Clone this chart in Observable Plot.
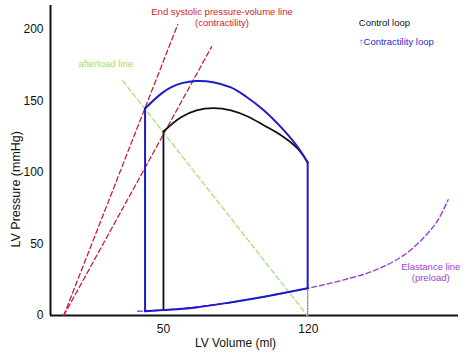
<!DOCTYPE html>
<html>
<head>
<meta charset="utf-8">
<script src="https://cdn.jsdelivr.net/npm/d3@7"></script>
<script src="https://cdn.jsdelivr.net/npm/@observablehq/plot@0.6"></script>
<style>
  html, body { margin: 0; padding: 0; background: #fff; }
  #chart svg { display: block; }
</style>
</head>
<body>
<div id="chart"></div>
<script>
// ---- data (volume in ml, pressure in mmHg) ----
const xTicks = [50, 120];
const yTicks = [0, 50, 100, 150, 200];

// control loop (black): isovolumic contraction + ejection curve
const controlSideV = [50, 50];
const controlSideP = [3.8, 128.7];
const controlTopV = [50, 58.5, 66, 74.4, 82.6, 91, 98.6, 106.8, 114.8, 119.7];
const controlTopP = [128.7, 138.7, 143.5, 145, 143.4, 139, 132.9, 126, 116.8, 107];

// increased contractility loop (blue)
const contrTopV = [41.1, 48.8, 53.6, 59, 65.7, 74, 82.6, 90, 98.6, 106.8, 114.8, 119.7];
const contrTopP = [144.8, 155, 159.5, 162.5, 164, 163.2, 159.5, 153, 143.4, 131.7, 118, 107];
const contrSideV = [41.1, 41.1];
const contrSideP = [144.8, 3];
const contrFillV = [41.1, 50, 65, 83, 100, 119.7];
const contrFillP = [3, 3.8, 5.5, 9.3, 13.5, 19];
const contrEjectV = [119.7, 119.7];
const contrEjectP = [19, 107];

// end systolic pressure-volume lines (red, dashed)
const espvr1V = [1.8, 56.9];
const espvr1P = [0, 203.5];
const espvr2V = [1.8, 73.3];
const espvr2P = [0, 188];

// afterload line (green, dashed)
const afterV = [30.3, 119.5];
const afterP = [164.3, 0];

// elastance line (purple, dashed)
const elasV = [37.5, 50, 83, 119.7, 136, 152, 166, 176, 182.5, 187.6];
const elasP = [3, 3.8, 9.3, 19, 24.5, 31.5, 42, 54.8, 66.4, 81];

// end-diastolic volume marker (grey dotted)
const edvV = [119.7, 119.7];
const edvP = [0, 19];

// annotations (centred)
const midText = ["End systolic pressure-volume line", "(contractility)", "afterload line", "Elastance line", "(preload)"];
const midV = [78.3, 78.3, 22.1, 179.2, 179.2];
const midP = [212.6, 204.9, 176, 33.8, 26.6];
const midColor = ["#cc1f2b", "#cc1f2b", "#9fe06a", "#9b3fd6", "#9b3fd6"];
// annotations (left-aligned legend)
const legText = ["Control loop", "\u2191Contractility loop"];
const legV = [144.4, 144.4];
const legP = [204.4, 191.1];
const legColor = ["#111111", "#2a2ad0"];

const xTitle = "LV Volume (ml)";
const yTitle = "LV Pressure (mmHg)";

// ---- build tables ----
const pts = (V, P) => V.map((v, i) => ({v, p: P[i]}));
const mids = midText.map((t, i) => ({t, v: midV[i], p: midP[i], c: midColor[i]}));
const legs = legText.map((t, i) => ({t, v: legV[i], p: legP[i], c: legColor[i]}));

const font = "Liberation Sans, Arial, Helvetica, sans-serif";
const dash = "5,3";
const blue = "#1c1cc8";

const plot = Plot.plot({
  width: 474,
  height: 355,
  marginLeft: 50,
  marginRight: 16,
  marginTop: 5,
  marginBottom: 40,
  style: {fontFamily: font, fontSize: "12px", background: "white", color: "#111"},
  x: {domain: [-4.6, 192.6], label: null},
  y: {domain: [0, 216.8], label: null},
  marks: [
    // axis lines
    Plot.ruleX([-4.6], {stroke: "#111", strokeWidth: 2}),
    Plot.ruleY([0], {stroke: "#111", strokeWidth: 2}),
    // reference lines
    Plot.line(pts(espvr1V, espvr1P), {x: "v", y: "p", stroke: "#c8203a", strokeWidth: 1.3, strokeDasharray: dash}),
    Plot.line(pts(espvr2V, espvr2P), {x: "v", y: "p", stroke: "#c8203a", strokeWidth: 1.3, strokeDasharray: dash}),
    Plot.line(pts(afterV, afterP), {x: "v", y: "p", stroke: "#a8e07a", strokeWidth: 1.3, strokeDasharray: dash}),
    Plot.line(pts(elasV, elasP), {x: "v", y: "p", stroke: "#9b3fd6", strokeWidth: 1.4, strokeDasharray: dash, curve: "catmull-rom"}),
    Plot.line(pts(edvV, edvP), {x: "v", y: "p", stroke: "#888", strokeWidth: 1.3, strokeDasharray: "1.5,1.5"}),
    // control loop
    Plot.line(pts(controlSideV, controlSideP), {x: "v", y: "p", stroke: "#111", strokeWidth: 1.8}),
    Plot.line(pts(controlTopV, controlTopP), {x: "v", y: "p", stroke: "#111", strokeWidth: 1.8, curve: "catmull-rom"}),
    // contractility loop
    Plot.line(pts(contrSideV, contrSideP), {x: "v", y: "p", stroke: blue, strokeWidth: 2}),
    Plot.line(pts(contrFillV, contrFillP), {x: "v", y: "p", stroke: blue, strokeWidth: 2, curve: "monotone-x"}),
    Plot.line(pts(contrEjectV, contrEjectP), {x: "v", y: "p", stroke: blue, strokeWidth: 2}),
    Plot.line(pts(contrTopV, contrTopP), {x: "v", y: "p", stroke: blue, strokeWidth: 2, curve: "catmull-rom"}),
    // axes
    Plot.axisX({ticks: xTicks, tickSize: 0, tickPadding: 9, fontSize: 12, label: null}),
    Plot.axisY({ticks: yTicks, tickSize: 0, tickPadding: 7, fontSize: 12, label: null}),
    // annotations
    Plot.text(mids, {x: "v", y: "p", text: "t", fill: "c", textAnchor: "middle", fontSize: 9.5}),
    Plot.text(legs, {x: "v", y: "p", text: "t", fill: "c", textAnchor: "start", fontSize: 9.5}),
    Plot.text([xTitle], {x: 84.8, y: -19.2, text: d => d, fontSize: 12, fill: "#111"}),
    Plot.text([yTitle], {x: -21.3, y: 88.3, text: d => d, fontSize: 12.5, rotate: -90, fill: "#111"})
  ]
});
document.getElementById("chart").appendChild(plot);
</script>
</body>
</html>
